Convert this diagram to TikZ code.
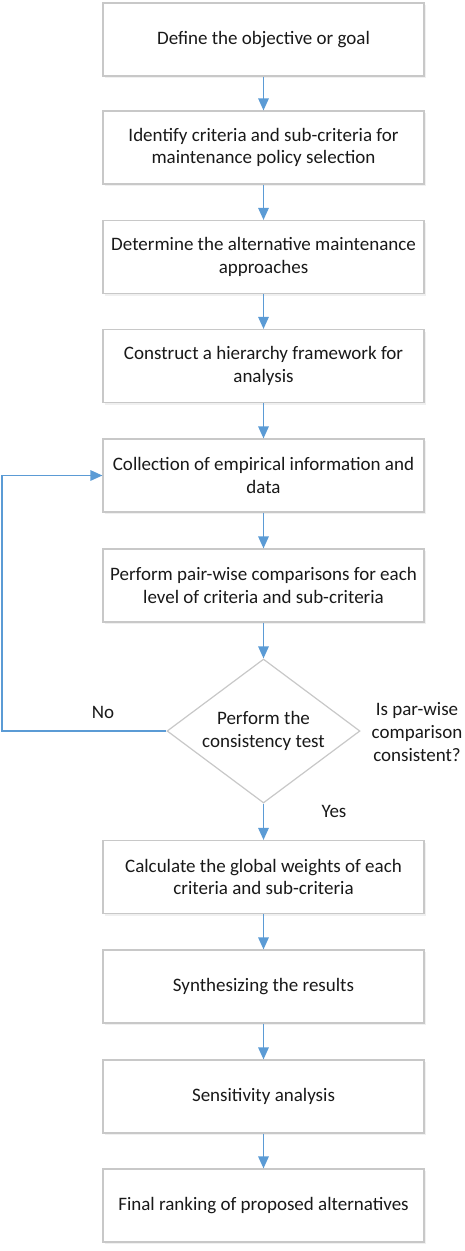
\documentclass[tikz,border=0pt]{standalone}
\usepackage{fontspec}
\setmainfont{Carlito}
\usetikzlibrary{arrows.meta,shapes.geometric,shadows}
\definecolor{flowblue}{HTML}{5B9BD5}
\definecolor{boxgray}{HTML}{C8C8C8}
\tikzset{
  txt/.style={font=\fontsize{19}{22.7}\selectfont, text=black!90},
  stepbox/.style={txt, draw=boxgray, line width=1.2pt, fill=white, minimum width=321pt, minimum height=73pt, inner sep=0pt, align=center, drop shadow={shadow xshift=1.5pt, shadow yshift=-2pt, fill=black!6, opacity=1}},
  decision/.style={txt, diamond, aspect=1.34, draw=boxgray, line width=1.2pt, fill=white, minimum width=193pt, minimum height=144pt, inner sep=0pt, align=center},
  flow/.style={draw=flowblue, line width=1.5pt, -{Triangle[width=10.5pt,length=12pt]}},
  lbl/.style={txt, align=center},
}
\begin{document}
\begin{tikzpicture}[x=1pt,y=-1pt]
\useasboundingbox (0,0) rectangle (465,1251);
\node[stepbox] (b1) at (263.5,39.5) {Define the objective or goal};
\node[stepbox] (b2) at (263.5,147.5) {Identify criteria and sub-criteria for\\maintenance policy selection};
\node[stepbox] (b3) at (263.5,257) {Determine the alternative maintenance\\approaches};
\node[stepbox] (b4) at (263.5,366) {Construct a hierarchy framework for\\analysis};
\node[stepbox] (b5) at (263.5,475.5) {Collection of empirical information and\\data};
\node[stepbox] (b6) at (263.5,585.5) {Perform pair-wise comparisons for each\\level of criteria and sub-criteria};
\node[decision] (d) at (263.5,731) {Perform the\\consistency test};
\node[stepbox] (b7) at (263.5,877) {Calculate the global weights of each\\criteria and sub-criteria};
\node[stepbox] (b8) at (263.5,986.5) {Synthesizing the results};
\node[stepbox] (b9) at (263.5,1096.5) {Sensitivity analysis};
\node[stepbox] (b10) at (263.5,1205.5) {Final ranking of proposed alternatives};
\draw[flow] (b1) -- (b2);
\draw[flow] (b2) -- (b3);
\draw[flow] (b3) -- (b4);
\draw[flow] (b4) -- (b5);
\draw[flow] (b5) -- (b6);
\draw[flow] (b6) -- (d);
\draw[flow] (d) -- (b7);
\draw[flow] (b7) -- (b8);
\draw[flow] (b8) -- (b9);
\draw[flow] (b9) -- (b10);
\coordinate (lp) at (2,731);
\draw[flow] (d.west) -- (lp) |- (b5.west);
\node[lbl] (no) at (103,712) {No};
\node[lbl] (yes) at (334,811) {Yes};
\node[lbl] (q) at (417,732) {Is par-wise\\comparison\\consistent?};
\end{tikzpicture}
\end{document}
